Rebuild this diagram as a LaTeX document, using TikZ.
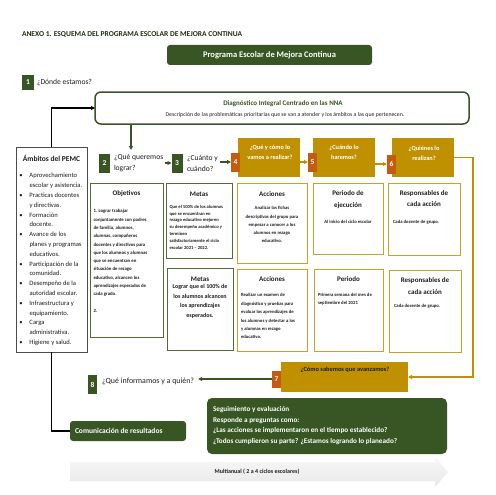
\documentclass[tikz,border=0pt]{standalone}
\usepackage{fontspec}
\setmainfont{Carlito}
\usetikzlibrary{arrows.meta}
\definecolor{pgreen}{HTML}{385623}
\definecolor{pgold}{HTML}{BF9000}
\definecolor{porange}{HTML}{C55A11}
\definecolor{ygold}{HTML}{C9A227}
\definecolor{txt}{HTML}{1E1E1E}
\definecolor{gboxline}{HTML}{4F6B38}
\begin{document}
\begin{tikzpicture}[x=1pt,y=-1pt,
  every node/.style={inner sep=0pt, outer sep=0pt, text=txt},
  numg/.style={fill=pgreen, text=white, font=\bfseries\fontsize{7.5}{9}\selectfont, minimum width=11pt, minimum height=19pt},
  numo/.style={fill=porange, text=white, font=\bfseries\fontsize{7.5}{9}\selectfont, minimum width=9pt, minimum height=19pt},
  goldq/.style={fill=pgold, minimum width=62pt, minimum height=39pt},
  goldtxt/.style={text=white, font=\bfseries\fontsize{6.3}{10}\selectfont, align=center},
  gbox/.style={draw=gboxline, line width=1pt, fill=white},
  ybox/.style={draw=ygold, line width=1pt, fill=white},
  ttl/.style={font=\bfseries\fontsize{7}{11.5}\selectfont, align=center},
  small/.style={font=\bfseries\fontsize{4.8}{8.3}\selectfont},
  qtext/.style={font=\fontsize{7.6}{11}\selectfont, align=left, anchor=west},
  garrow/.style={draw=pgreen, line width=1.2pt, -{Triangle[length=4pt,width=4pt]}},
  yarrow/.style={draw=pgold, line width=1.2pt, -{Triangle[length=4pt,width=4pt]}},
  karrow/.style={draw=black, line width=1.2pt, -{Triangle[length=4pt,width=4pt]}},
  kline/.style={draw=black, line width=1.2pt}]
\fill[white] (0,0) rectangle (495,495);
\useasboundingbox (0,0) rectangle (495,495);

% header
\node[anchor=west, font=\bfseries\fontsize{7.5}{8}\selectfont, text=pgreen!55!black] (anexo) at (22,35) {ANEXO 1. ESQUEMA DEL PROGRAMA ESCOLAR DE MEJORA CONTINUA};
\node[fill=pgreen, rounded corners=3pt, minimum width=205pt, minimum height=20pt, text=white, font=\bfseries\fontsize{8.5}{10}\selectfont] (banner) at (269.5,55) {Programa Escolar de Mejora Continua};

% step 1
\node[numg, minimum width=12pt, minimum height=15pt] (n1) at (28,82.5) {1};
\node[qtext] (q1) at (37,82) {¿Dónde estamos?};

% diagnosis
\node[draw=pgreen, line width=1.5pt, rounded corners=6pt, minimum width=374pt, minimum height=32pt, fill=white] (diag) at (282,108) {};
\node[font=\bfseries\fontsize{7}{8}\selectfont, text=pgreen] (diagt) at (283,104) {Diagnóstico Integral Centrado en las NNA};
\node[font=\fontsize{5.8}{7}\selectfont] (diagd) at (285,114.5) {Descripción de las problemáticas prioritarias que se van a atender y los ámbitos a las que pertenecen.};

% ambitos
\node[draw=gray!60!black, line width=0.8pt, fill=white, minimum width=71pt, minimum height=205pt] (amb) at (51.5,249.5) {};
\node[font=\bfseries\fontsize{7.5}{9}\selectfont] (ambt) at (51.5,158) {Ámbitos del PEMC};
\node[anchor=north west, font=\fontsize{6.6}{9.8}\selectfont] (ambl) at (19.5,171) {%
\renewcommand{\arraystretch}{1}%
\begin{tabular}{@{}p{10pt}@{}l@{}}
\textbullet & Aprovechamiento\\
& escolar y asistencia.\\
\textbullet & Practicas docentes\\
& y directivas.\\
\textbullet & Formación\\
& docente.\\
\textbullet & Avance de los\\
& planes y programas\\
& educativos.\\
\textbullet & Participación de la\\
& comunidad.\\
\textbullet & Desempeño de la\\
& autoridad escolar.\\
\textbullet & Infraestructura y\\
& equipamiento.\\
\textbullet & Carga\\
& administrativa.\\
\textbullet & Higiene y salud.
\end{tabular}};

% steps 2, 3
\node[numg] (n2) at (104.5,163) {2};
\node[qtext] (q2) at (114,163) {¿Qué queremos\\lograr?};
\node[numg] (n3) at (177,163) {3};
\node[qtext] (q3) at (187,163) {¿Cuánto y\\cuándo?};

% gold question boxes
\node[goldq] (g4) at (269,157.5) {};
\node[goldq] (g5) at (344,157.5) {};
\node[goldq] (g6) at (423,157.5) {};
\node[numo] (o4) at (235.5,162) {4};
\node[numo] (o5) at (312.5,162) {5};
\node[numo] (o6) at (391.5,164) {6};
\node[goldtxt] (t4) at (270,152) {¿Qué y cómo lo\\vamos a realizar?};
\node[goldtxt] (t5) at (344,152) {¿Cuándo lo\\haremos?};
\node[goldtxt] (t6) at (424,153) {¿Quiénes lo\\realizan?};

% lower boxes
\node[gbox, minimum width=73pt, minimum height=154pt] (obj) at (126.5,260) {};
\node[ttl] (objt) at (126.5,194) {Objetivos};
\node[small, anchor=north west, align=left] (objx) at (93.5,209.5) {1. Lograr trabajar\\conjuntamente con padres\\de familia, alumnos,\\alumnas, compañeros\\docentes y directivos para\\que los alumnos y alumnas\\que se encuentran en\\situación de rezago\\educativo, alcancen los\\aprendizajes esperados de\\cada grado.\\[8.3pt]2.};

\node[gbox, minimum width=66pt, minimum height=75pt] (met1) at (199,220.5) {};
\node[ttl] (met1t) at (199,194) {Metas};
\node[anchor=north west, align=left, font=\bfseries\fontsize{4.6}{6.8}\selectfont] (met1x) at (169.5,205) {Que el 100\% de los alumnos\\que se encuentran en\\rezago educativo mejoren\\su desempeño académico y\\terminen\\satisfactoriamente el ciclo\\escolar 2021 – 2022.};

\node[gbox, minimum width=66pt, minimum height=82pt] (met2) at (200,309) {};
\node[ttl] (met2t) at (200,279) {Metas};
\node[anchor=north, align=center, font=\bfseries\fontsize{6}{9.8}\selectfont] (met2x) at (200,284) {Lograr que el 100\% de\\los alumnos alcancen\\los aprendizajes\\esperados.};

\node[ybox, minimum width=70pt, minimum height=80pt] (acc1) at (272,223) {};
\node[ttl] (acc1t) at (272,194) {Acciones};
\node[anchor=north, align=center, font=\bfseries\fontsize{4.7}{8.2}\selectfont] (acc1x) at (272,206.5) {Analizar las fichas\\descriptivas del grupo para\\empezar a conocer a los\\alumnos en rezago\\educativo.};

\node[ybox, minimum width=70pt, minimum height=82pt] (acc2) at (272,310) {};
\node[ttl] (acc2t) at (272,279) {Acciones};
\node[anchor=north west, align=left, font=\bfseries\fontsize{4.7}{8.4}\selectfont] (acc2x) at (241,293.5) {Realizar un examen de\\diagnóstico y pruebas para\\evaluar los aprendizajes de\\los alumnos y detectar a los\\y alumnas en rezago\\educativo.};

\node[ybox, minimum width=70pt, minimum height=71pt] (per1) at (348,218.5) {};
\node[ttl] (per1t) at (348,199.5) {Periodo de\\ejecución};
\node[font=\bfseries\fontsize{4.7}{6}\selectfont] (per1x) at (348,222) {Al inicio del ciclo escolar};

\node[ybox, minimum width=69pt, minimum height=82pt] (per2) at (348.5,310) {};
\node[ttl] (per2t) at (348.5,279) {Periodo};
\node[anchor=north west, align=left, font=\bfseries\fontsize{4.7}{7.5}\selectfont] (per2x) at (318,293.5) {Primera semana del mes de\\septiembre del 2021};

\node[ybox, minimum width=72pt, minimum height=72pt] (res1) at (424,219) {};
\node[ttl] (res1t) at (424,198.5) {Responsables de\\cada acción};
\node[anchor=west, font=\bfseries\fontsize{4.7}{6}\selectfont] (res1x) at (393,222) {Cada docente de grupo.};

\node[ybox, minimum width=72pt, minimum height=82pt] (res2) at (425,311) {};
\node[ttl] (res2t) at (425,286) {Responsables de\\cada acción};
\node[anchor=west, font=\bfseries\fontsize{4.7}{6}\selectfont] (res2x) at (394,306) {Cada docente de grupo.};

% step 7, 8
\node[fill=pgold, minimum width=127pt, minimum height=30pt] (g7) at (344.5,377) {};
\node[numo, minimum height=17pt] (o7) at (276.5,379) {7};
\node[font=\bfseries\fontsize{6.4}{7}\selectfont] (t7) at (345,370) {¿Cómo sabemos que avanzamos?};
\node[numg, minimum width=9pt] (n8) at (92.5,384.5) {8};
\node[qtext, font=\fontsize{7.9}{11}\selectfont] (q8) at (102,381) {¿Qué informamos y a quién?};

% bottom boxes
\node[fill=pgreen, rounded corners=5pt, minimum width=240pt, minimum height=56pt] (seg) at (327,426) {};
\node[anchor=north west, align=left, text=white, font=\bfseries\fontsize{7.2}{10.5}\selectfont] (segx) at (213,406.5) {Seguimiento y evaluación\\Responde a preguntas como:\\¿Las acciones se implementaron en el tiempo establecido?\\¿Todos cumplieron su parte? ¿Estamos logrando lo planeado?};
\node[fill=pgreen, rounded corners=3pt, minimum width=116pt, minimum height=20pt] (com) at (128,431) {};
\node[anchor=west, text=white, font=\bfseries\fontsize{7.5}{8}\selectfont] (comx) at (75,431) {Comunicación de resultados};

% multianual arrow
\shade[top color=gray!6, bottom color=gray!18] (70,462) -- (435,462) -- (435,457) -- (448,472) -- (435,487) -- (435,481) -- (70,481) -- cycle;
\node[font=\bfseries\fontsize{6}{7}\selectfont] (multi) at (257,472) {Multianual ( 2 a 4 ciclos escolares)};

% connectors
\coordinate (dtgt) at (131,150);
\draw[karrow] (amb.north) |- (diag.west);
\draw[kline] (amb.south) |- (com.west);
\draw[garrow] (diag.south -| dtgt) -- (dtgt);
\coordinate (q2e) at ([xshift=2pt]q2.east);
\coordinate (q3e) at ([xshift=2pt]q3.east);
\draw[garrow] (q2e |- n3.west) -- (n3.west);
\draw[garrow] (q3e |- o4.west) -- (o4.west);
\draw[yarrow] (g4.east |- o5.west) -- (o5.west);
\draw[yarrow] (g5.east |- o6.west) -- (o6.west);
\draw[yarrow] (g6.east) -- ++(19,0) |- (g7.east);
\coordinate (q8e) at ([xshift=4pt]q8.east);
\draw[garrow] (o7.west) -- (q8e |- o7.west);
\end{tikzpicture}
\end{document}
